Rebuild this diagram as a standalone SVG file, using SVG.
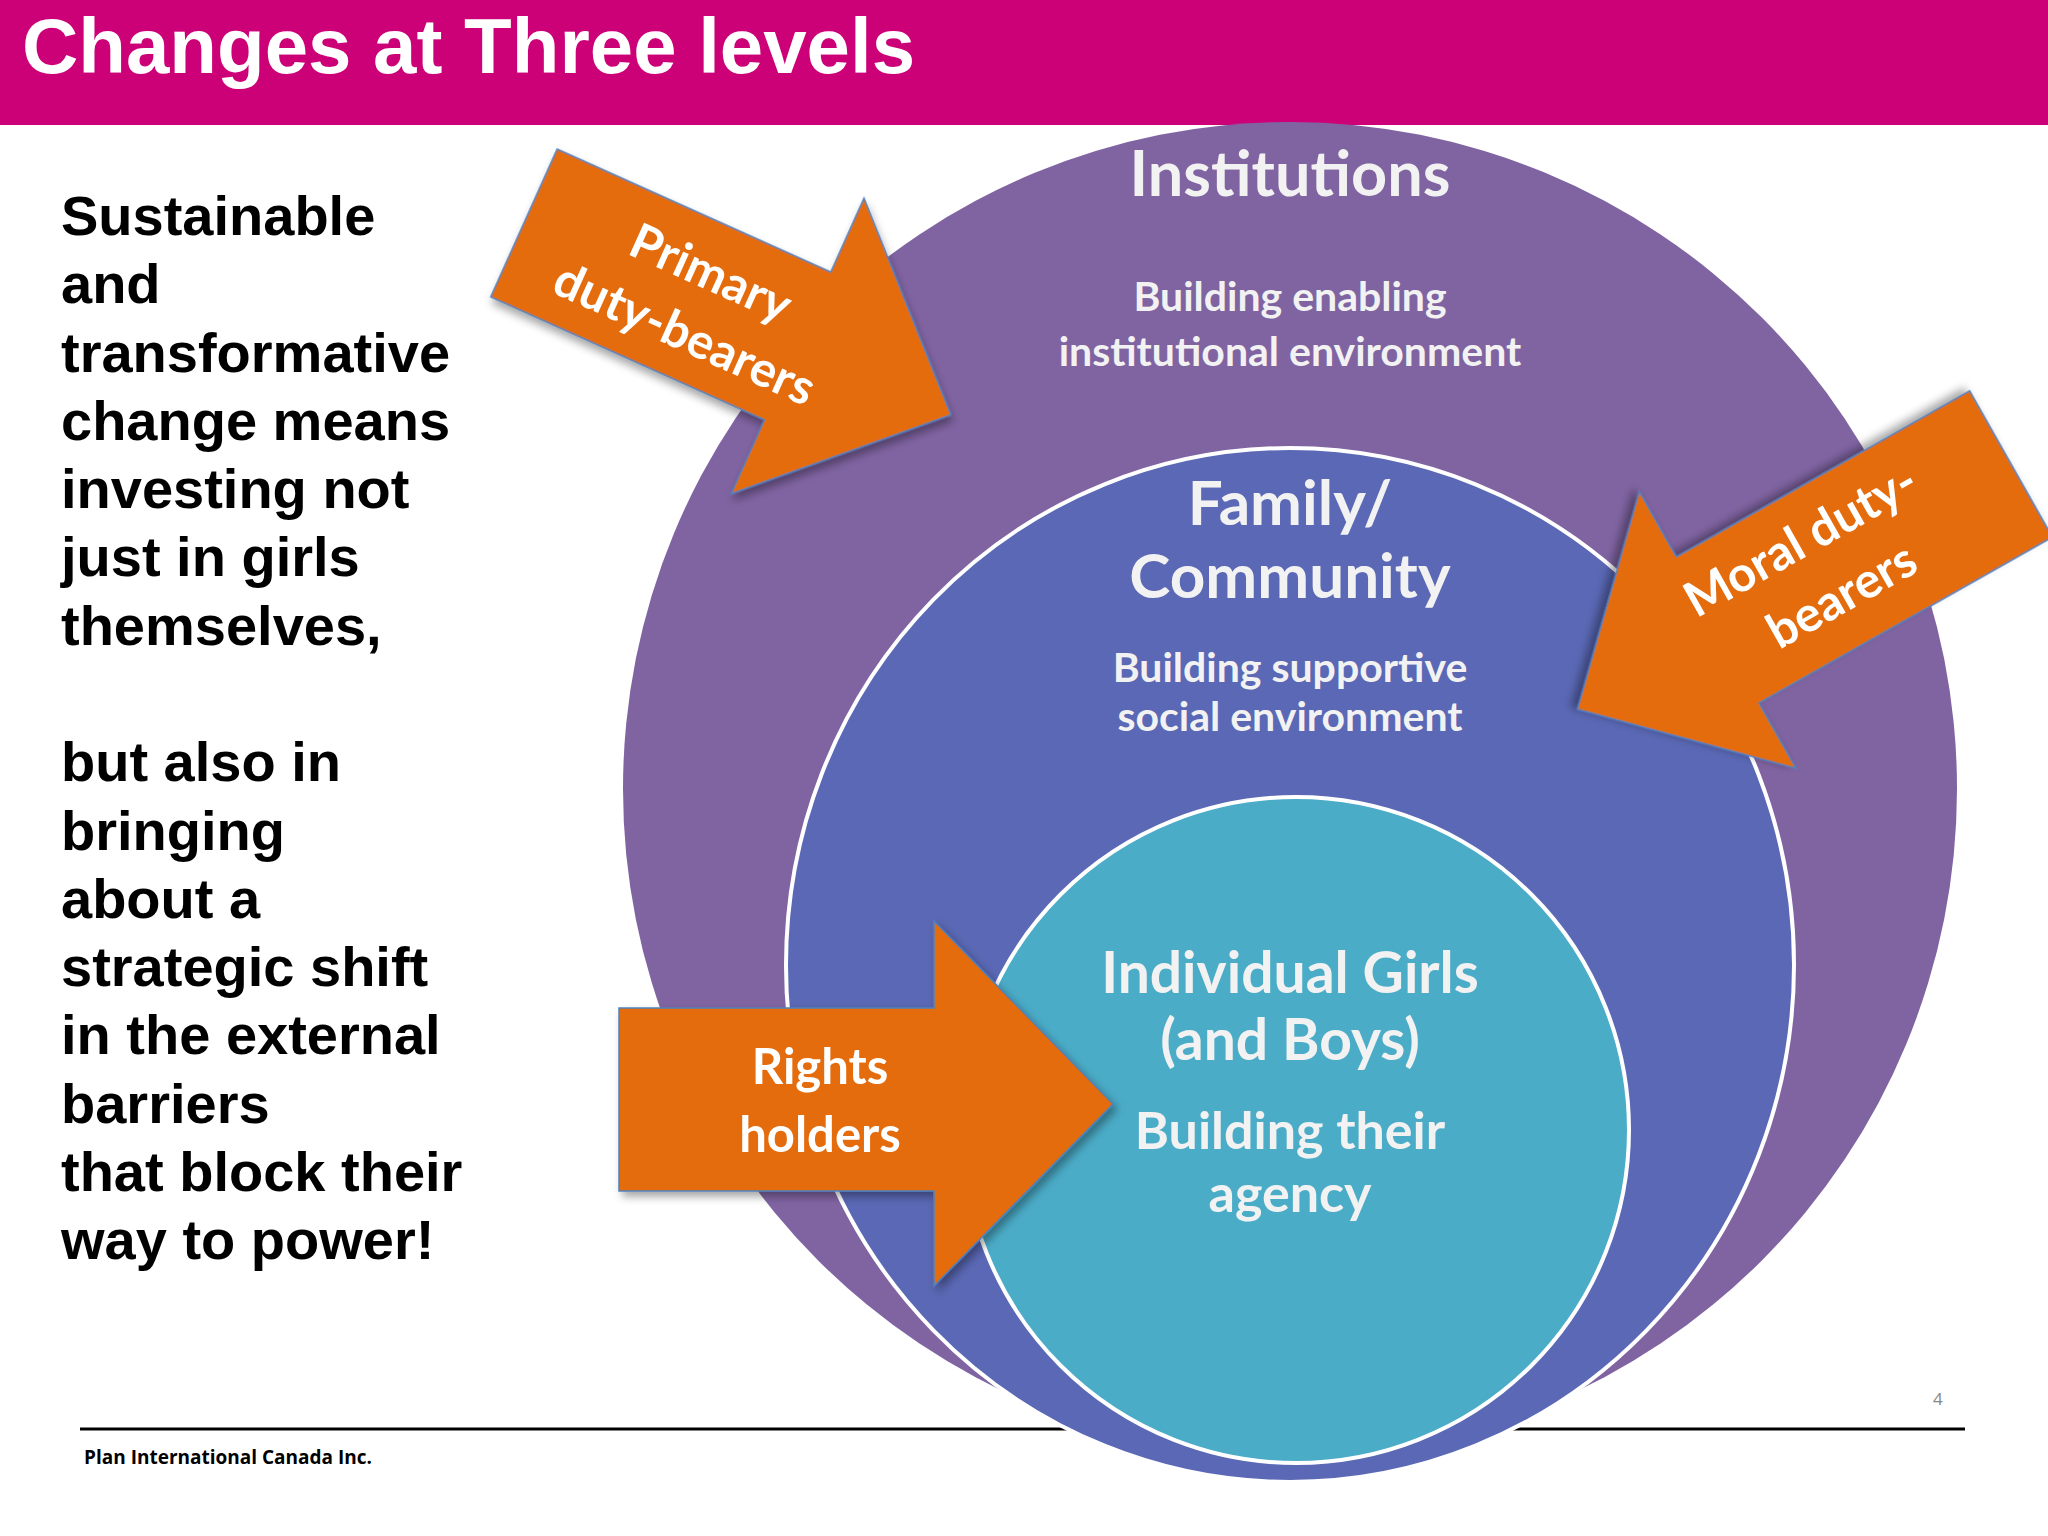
<svg xmlns="http://www.w3.org/2000/svg" width="2048" height="1536" viewBox="0 0 2048 1536">
<style>
.lt{font-family:"Liberation Sans",Arial,sans-serif;font-weight:bold;font-size:56px;fill:#000}
.ct{font-family:Lato,"Open Sans",sans-serif;font-weight:bold;fill:#F2F2F2;text-anchor:middle}
.arr{fill:#E46C0A;stroke:#4F81BD;stroke-width:1.5;filter:url(#sh)}
.at{font-family:Lato,"Open Sans",sans-serif;font-weight:bold;fill:#FFFFFF;font-size:49px;text-anchor:middle}
</style>
<defs>
<filter id="sh" x="-20%" y="-20%" width="140%" height="140%"><feDropShadow dx="4" dy="5" stdDeviation="4" flood-color="#000" flood-opacity="0.35"/></filter>
</defs>
<rect width="2048" height="1536" fill="#fff"/>
<g id="header">
<rect x="0" y="0" width="2048" height="125" fill="#CC0077"/>
<text x="22" y="73" font-family="Liberation Sans,Arial,sans-serif" font-weight="bold" font-size="78" fill="#fff">Changes at Three levels</text>
</g>
<g id="footer">
<line x1="80" y1="1429" x2="1965" y2="1429" stroke="#000" stroke-width="3"/>
<text x="84" y="1464" font-family="Open Sans,sans-serif" font-weight="bold" font-size="19" fill="#000">Plan International Canada Inc.</text>
<text x="1933" y="1405" font-family="Open Sans,sans-serif" font-size="17" fill="#888">4</text>
</g>
<g id="left-text" class="lt">
<text x="61" y="235">Sustainable</text>
<text x="61" y="303">and</text>
<text x="61" y="372">transformative</text>
<text x="61" y="440">change means</text>
<text x="61" y="508">investing not</text>
<text x="61" y="576">just in girls</text>
<text x="61" y="645">themselves,</text>
<text x="61" y="781">but also in</text>
<text x="61" y="850">bringing</text>
<text x="61" y="918">about a</text>
<text x="61" y="986">strategic shift</text>
<text x="61" y="1054">in the external</text>
<text x="61" y="1123">barriers</text>
<text x="61" y="1191">that block their</text>
<text x="61" y="1259">way to power!</text>
</g>
<g id="institutions">
<circle cx="1290" cy="789" r="667" fill="#8064A2"/>
<text class="ct" x="1290" y="196" font-size="63">Institutions</text>
<text class="ct" x="1290" y="311" font-size="41">Building enabling</text>
<text class="ct" x="1290" y="366" font-size="41">institutional environment</text>
</g>
<g id="family">
<ellipse cx="1290" cy="965" rx="504" ry="517" fill="#5A68B5" stroke="#fff" stroke-width="4"/>
<text class="ct" x="1290" y="525" font-size="62">Family/</text>
<text class="ct" x="1290" y="598" font-size="62">Community</text>
<text class="ct" x="1290" y="682" font-size="41">Building supportive</text>
<text class="ct" x="1290" y="731" font-size="41">social environment</text>
</g>
<g id="individual">
<circle cx="1296" cy="1130" r="333" fill="#4BACC8" stroke="#fff" stroke-width="4"/>
<text class="ct" x="1290" y="993" font-size="57">Individual Girls</text>
<text class="ct" x="1290" y="1060" font-size="57">(and Boys)</text>
<text class="ct" x="1290" y="1149" font-size="52">Building their</text>
<text class="ct" x="1290" y="1212" font-size="52">agency</text>
</g>
<g id="connectors">
<g id="rights-holders">
<polygon class="arr" points="619,1008 934,1008 934,921 1113,1104 934,1286 934,1191 619,1191"/>
<text class="at" x="820" y="1084" font-size="52">Rights</text>
<text class="at" x="820" y="1152" font-size="52">holders</text>
</g>
<g id="primary" transform="translate(524,223) rotate(24.2)">
<polygon class="arr" points="0,-81 300,-81 300,-162 468,0 300,162 300,81 0,81"/>
<text class="at" x="191" y="-14">Primary</text>
<text class="at" x="192" y="52">duty-bearers</text>
</g>
<g id="moral">
<polygon class="arr" transform="translate(2011,464) rotate(150.5)" points="0,-84 337,-84 337,-159 498,0 337,159 337,84 0,84"/>
<text class="at" transform="translate(1809,555) rotate(-29.5)">Moral duty-</text>
<text class="at" transform="translate(1850,610) rotate(-29.5)">bearers</text>
</g>
</g>
</svg>
